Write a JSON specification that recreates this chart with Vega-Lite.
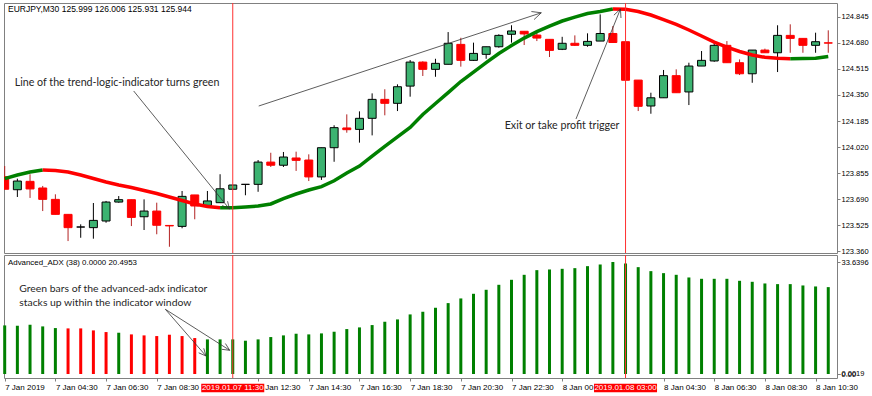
{
"$schema": "https://vega.github.io/schema/vega-lite/v6.json",
"padding": {"left": 2, "top": 2, "right": 0, "bottom": 0},
"background": "white",
"config": {"view": {"stroke": "#808080", "strokeWidth": 1}, "font": "Liberation Sans", "axis": {"labelOverlap": false, "labelSeparation": 0}},
"datasets": {
"c": [
{"i":0,"o":123.832,"h":123.900,"l":123.753,"c":123.753},
{"i":1,"o":123.750,"h":123.820,"l":123.704,"c":123.805},
{"i":2,"o":123.803,"h":123.848,"l":123.698,"c":123.755},
{"i":3,"o":123.761,"h":123.774,"l":123.615,"c":123.689},
{"i":4,"o":123.689,"h":123.721,"l":123.594,"c":123.594},
{"i":5,"o":123.594,"h":123.594,"l":123.425,"c":123.510},
{"i":6,"o":123.514,"h":123.531,"l":123.446,"c":123.514},
{"i":7,"o":123.510,"h":123.666,"l":123.440,"c":123.556},
{"i":8,"o":123.552,"h":123.679,"l":123.541,"c":123.672},
{"i":9,"o":123.672,"h":123.710,"l":123.668,"c":123.687},
{"i":10,"o":123.687,"h":123.687,"l":123.520,"c":123.575},
{"i":11,"o":123.579,"h":123.689,"l":123.495,"c":123.615},
{"i":12,"o":123.615,"h":123.668,"l":123.468,"c":123.525},
{"i":13,"o":123.524,"h":123.524,"l":123.389,"c":123.521},
{"i":14,"o":123.518,"h":123.742,"l":123.506,"c":123.708},
{"i":15,"o":123.717,"h":123.717,"l":123.563,"c":123.647},
{"i":16,"o":123.651,"h":123.742,"l":123.647,"c":123.679},
{"i":17,"o":123.668,"h":123.848,"l":123.668,"c":123.756},
{"i":18,"o":123.753,"h":123.780,"l":123.753,"c":123.780},
{"i":19,"o":123.784,"h":123.784,"l":123.715,"c":123.784},
{"i":20,"o":123.784,"h":123.938,"l":123.737,"c":123.925},
{"i":21,"o":123.925,"h":123.984,"l":123.894,"c":123.905},
{"i":22,"o":123.905,"h":123.989,"l":123.894,"c":123.957},
{"i":23,"o":123.951,"h":123.991,"l":123.869,"c":123.936},
{"i":24,"o":123.938,"h":123.974,"l":123.805,"c":123.831},
{"i":25,"o":123.831,"h":124.016,"l":123.812,"c":124.016},
{"i":26,"o":124.016,"h":124.158,"l":123.927,"c":124.143},
{"i":27,"o":124.141,"h":124.227,"l":124.111,"c":124.130},
{"i":28,"o":124.132,"h":124.246,"l":124.048,"c":124.202},
{"i":29,"o":124.202,"h":124.360,"l":124.094,"c":124.322},
{"i":30,"o":124.322,"h":124.386,"l":124.221,"c":124.297},
{"i":31,"o":124.297,"h":124.417,"l":124.248,"c":124.402},
{"i":32,"o":124.406,"h":124.571,"l":124.339,"c":124.558},
{"i":33,"o":124.558,"h":124.563,"l":124.470,"c":124.512},
{"i":34,"o":124.512,"h":124.579,"l":124.465,"c":124.550},
{"i":35,"o":124.544,"h":124.748,"l":124.544,"c":124.677},
{"i":36,"o":124.670,"h":124.712,"l":124.529,"c":124.569},
{"i":37,"o":124.569,"h":124.681,"l":124.565,"c":124.613},
{"i":38,"o":124.607,"h":124.655,"l":124.579,"c":124.655},
{"i":39,"o":124.655,"h":124.734,"l":124.649,"c":124.727},
{"i":40,"o":124.734,"h":124.791,"l":124.681,"c":124.755},
{"i":41,"o":124.753,"h":124.753,"l":124.666,"c":124.736},
{"i":42,"o":124.729,"h":124.755,"l":124.691,"c":124.710},
{"i":43,"o":124.702,"h":124.702,"l":124.590,"c":124.632},
{"i":44,"o":124.639,"h":124.718,"l":124.634,"c":124.677},
{"i":45,"o":124.677,"h":124.727,"l":124.660,"c":124.664},
{"i":46,"o":124.664,"h":124.740,"l":124.655,"c":124.689},
{"i":47,"o":124.691,"h":124.860,"l":124.691,"c":124.739},
{"i":48,"o":124.739,"h":124.786,"l":124.679,"c":124.682},
{"i":49,"o":124.687,"h":124.687,"l":124.443,"c":124.443},
{"i":50,"o":124.444,"h":124.444,"l":124.248,"c":124.278},
{"i":51,"o":124.280,"h":124.364,"l":124.231,"c":124.332},
{"i":52,"o":124.332,"h":124.508,"l":124.332,"c":124.472},
{"i":53,"o":124.472,"h":124.512,"l":124.364,"c":124.364},
{"i":54,"o":124.369,"h":124.554,"l":124.286,"c":124.533},
{"i":55,"o":124.533,"h":124.628,"l":124.533,"c":124.569},
{"i":56,"o":124.565,"h":124.685,"l":124.560,"c":124.664},
{"i":57,"o":124.664,"h":124.691,"l":124.554,"c":124.554},
{"i":58,"o":124.554,"h":124.575,"l":124.476,"c":124.484},
{"i":59,"o":124.484,"h":124.634,"l":124.427,"c":124.634},
{"i":60,"o":124.634,"h":124.643,"l":124.617,"c":124.617},
{"i":61,"o":124.617,"h":124.791,"l":124.495,"c":124.727},
{"i":62,"o":124.727,"h":124.797,"l":124.617,"c":124.708},
{"i":63,"o":124.708,"h":124.708,"l":124.617,"c":124.664},
{"i":64,"o":124.664,"h":124.744,"l":124.617,"c":124.687},
{"i":65,"o":124.680,"h":124.759,"l":124.617,"c":124.678}
],
"tr": [
{"i":0,"p":123.820,"seg":1,"s":"up"},{"i":1,"p":123.843,"seg":1,"s":"up"},{"i":2,"p":123.862,"seg":1,"s":"up"},{"i":3,"p":123.875,"seg":1,"s":"up"},
{"i":3,"p":123.875,"seg":2,"s":"down"},{"i":4,"p":123.872,"seg":2,"s":"down"},{"i":5,"p":123.862,"seg":2,"s":"down"},{"i":6,"p":123.843,"seg":2,"s":"down"},{"i":7,"p":123.821,"seg":2,"s":"down"},{"i":8,"p":123.799,"seg":2,"s":"down"},{"i":9,"p":123.780,"seg":2,"s":"down"},{"i":10,"p":123.764,"seg":2,"s":"down"},{"i":11,"p":123.745,"seg":2,"s":"down"},{"i":12,"p":123.726,"seg":2,"s":"down"},{"i":13,"p":123.704,"seg":2,"s":"down"},{"i":14,"p":123.682,"seg":2,"s":"down"},{"i":15,"p":123.660,"seg":2,"s":"down"},{"i":16,"p":123.644,"seg":2,"s":"down"},{"i":17,"p":123.636,"seg":2,"s":"down"},
{"i":17,"p":123.636,"seg":3,"s":"up"},{"i":18,"p":123.636,"seg":3,"s":"up"},{"i":19,"p":123.641,"seg":3,"s":"up"},{"i":20,"p":123.647,"seg":3,"s":"up"},{"i":21,"p":123.660,"seg":3,"s":"up"},{"i":22,"p":123.694,"seg":3,"s":"up"},{"i":23,"p":123.723,"seg":3,"s":"up"},{"i":24,"p":123.748,"seg":3,"s":"up"},{"i":25,"p":123.770,"seg":3,"s":"up"},{"i":26,"p":123.807,"seg":3,"s":"up"},{"i":27,"p":123.856,"seg":3,"s":"up"},{"i":28,"p":123.900,"seg":3,"s":"up"},{"i":29,"p":123.963,"seg":3,"s":"up"},{"i":30,"p":124.024,"seg":3,"s":"up"},{"i":31,"p":124.084,"seg":3,"s":"up"},{"i":32,"p":124.144,"seg":3,"s":"up"},{"i":33,"p":124.226,"seg":3,"s":"up"},{"i":34,"p":124.296,"seg":3,"s":"up"},{"i":35,"p":124.365,"seg":3,"s":"up"},{"i":36,"p":124.435,"seg":3,"s":"up"},{"i":37,"p":124.495,"seg":3,"s":"up"},{"i":38,"p":124.555,"seg":3,"s":"up"},{"i":39,"p":124.612,"seg":3,"s":"up"},{"i":40,"p":124.663,"seg":3,"s":"up"},{"i":41,"p":124.710,"seg":3,"s":"up"},{"i":42,"p":124.751,"seg":3,"s":"up"},{"i":43,"p":124.786,"seg":3,"s":"up"},{"i":44,"p":124.818,"seg":3,"s":"up"},{"i":45,"p":124.843,"seg":3,"s":"up"},{"i":46,"p":124.865,"seg":3,"s":"up"},{"i":47,"p":124.878,"seg":3,"s":"up"},{"i":48,"p":124.894,"seg":3,"s":"up"},
{"i":48,"p":124.894,"seg":4,"s":"down"},{"i":49,"p":124.892,"seg":4,"s":"down"},{"i":50,"p":124.878,"seg":4,"s":"down"},{"i":51,"p":124.856,"seg":4,"s":"down"},{"i":52,"p":124.827,"seg":4,"s":"down"},{"i":53,"p":124.796,"seg":4,"s":"down"},{"i":54,"p":124.761,"seg":4,"s":"down"},{"i":55,"p":124.723,"seg":4,"s":"down"},{"i":56,"p":124.685,"seg":4,"s":"down"},{"i":57,"p":124.653,"seg":4,"s":"down"},{"i":58,"p":124.625,"seg":4,"s":"down"},{"i":59,"p":124.603,"seg":4,"s":"down"},{"i":60,"p":124.588,"seg":4,"s":"down"},{"i":61,"p":124.582,"seg":4,"s":"down"},{"i":62,"p":124.579,"seg":4,"s":"down"},
{"i":62,"p":124.579,"seg":5,"s":"up"},{"i":63,"p":124.580,"seg":5,"s":"up"},{"i":64,"p":124.582,"seg":5,"s":"up"},{"i":65,"p":124.593,"seg":5,"s":"up"}
],
"adx": [
{"i":0,"v":14.6,"s":"up"},{"i":1,"v":14.5,"s":"up"},{"i":2,"v":14.8,"s":"up"},{"i":3,"v":14.3,"s":"up"},{"i":4,"v":13.8,"s":"up"},
{"i":5,"v":13.7,"s":"down"},{"i":6,"v":13.7,"s":"down"},{"i":7,"v":13.1,"s":"down"},{"i":8,"v":12.6,"s":"down"},
{"i":9,"v":12.4,"s":"up"},
{"i":10,"v":11.9,"s":"down"},{"i":11,"v":11.6,"s":"down"},{"i":12,"v":11.4,"s":"down"},{"i":13,"v":11.8,"s":"down"},{"i":14,"v":11.4,"s":"down"},{"i":15,"v":10.8,"s":"down"},
{"i":16,"v":10.4,"s":"up"},{"i":17,"v":10.4,"s":"up"},{"i":18,"v":10.4,"s":"up"},{"i":19,"v":10.0,"s":"up"},{"i":20,"v":10.4,"s":"up"},{"i":21,"v":11.1,"s":"up"},{"i":22,"v":11.6,"s":"up"},{"i":23,"v":12.1,"s":"up"},{"i":24,"v":11.9,"s":"up"},{"i":25,"v":12.2,"s":"up"},{"i":26,"v":12.7,"s":"up"},{"i":27,"v":13.5,"s":"up"},{"i":28,"v":14.0,"s":"up"},{"i":29,"v":14.7,"s":"up"},{"i":30,"v":15.7,"s":"up"},{"i":31,"v":16.4,"s":"up"},{"i":32,"v":17.9,"s":"up"},{"i":33,"v":18.7,"s":"up"},{"i":34,"v":19.9,"s":"up"},{"i":35,"v":21.3,"s":"up"},{"i":36,"v":22.7,"s":"up"},{"i":37,"v":24.1,"s":"up"},{"i":38,"v":25.3,"s":"up"},{"i":39,"v":26.8,"s":"up"},{"i":40,"v":28.3,"s":"up"},{"i":41,"v":29.8,"s":"up"},{"i":42,"v":31.2,"s":"up"},{"i":43,"v":31.4,"s":"up"},{"i":44,"v":31.6,"s":"up"},{"i":45,"v":31.8,"s":"up"},{"i":46,"v":32.4,"s":"up"},{"i":47,"v":32.9,"s":"up"},{"i":48,"v":33.64,"s":"up"},{"i":49,"v":33.2,"s":"up"},{"i":50,"v":32.1,"s":"up"},{"i":51,"v":30.9,"s":"up"},{"i":52,"v":30.3,"s":"up"},{"i":53,"v":29.8,"s":"up"},{"i":54,"v":29.0,"s":"up"},{"i":55,"v":28.6,"s":"up"},{"i":56,"v":28.6,"s":"up"},{"i":57,"v":28.6,"s":"up"},{"i":58,"v":28.0,"s":"up"},{"i":59,"v":27.7,"s":"up"},{"i":60,"v":27.2,"s":"up"},{"i":61,"v":27.0,"s":"up"},{"i":62,"v":27.0,"s":"up"},{"i":63,"v":26.6,"s":"up"},{"i":64,"v":26.3,"s":"up"},{"i":65,"v":26.1,"s":"up"}
],
"ev": [{"i":18,"label":"2019.01.07 11:30"},{"i":49,"label":"2019.01.08 03:00"}],
"topnotes": [
{"t":"Line of the trend-logic-indicator turns green","i":0.79,"p":124.427},
{"t":"Exit or take profit trigger","i":39.46,"p":124.156}
],
"toparrows": [
{"i":10.18,"p":124.375,"i2":17.74,"p2":123.628},
{"i":17.74,"p":123.628,"i2":17.59,"p2":123.677},
{"i":17.74,"p":123.628,"i2":17.17,"p2":123.650},
{"i":20.05,"p":124.280,"i2":42.35,"p2":124.870},
{"i":42.35,"p":124.870,"i2":41.57,"p2":124.878},
{"i":42.35,"p":124.870,"i2":41.78,"p2":124.827},
{"i":45.09,"p":124.198,"i2":48.60,"p2":124.894},
{"i":48.60,"p":124.894,"i2":48.08,"p2":124.855},
{"i":48.60,"p":124.894,"i2":48.64,"p2":124.837}
],
"botnotes": [
{"t":"Green bars of the advanced-adx indicator","i":1.15,"v":25.44},
{"t":"stacks up within the indicator window","i":1.15,"v":21.42}
],
"botarrows": [
{"i":12.68,"v":19.44,"i2":15.89,"v2":5.41},
{"i":15.89,"v":5.41,"i2":15.71,"v2":7.72},
{"i":15.89,"v":5.41,"i2":15.31,"v2":6.37},
{"i":12.68,"v":19.44,"i2":17.76,"v2":7.12},
{"i":17.76,"v":7.12,"i2":17.42,"v2":9.15},
{"i":17.76,"v":7.12,"i2":17.13,"v2":7.42}
]
},
"spacing": 2,
"bounds": "flush",
"resolve": {"scale": {"y": "independent", "color": "independent"}},
"vconcat": [
{
"width": 833, "height": 250,
"layer": [
{"data": {"name": "c"}, "mark": {"type": "rule", "strokeWidth": 1, "clip": true},
 "encoding": {
  "x": {"field": "i", "type": "quantitative", "scale": {"domain": [-0.055, 65.69], "nice": false, "zero": false, "padding": 0}, "axis": null},
  "y": {"field": "l", "type": "quantitative", "scale": {"domain": [123.3495, 124.932], "nice": false, "zero": false},
        "axis": {"orient": "right", "values": [123.36,123.525,123.69,123.855,124.02,124.185,124.35,124.515,124.68,124.845], "format": ".3f", "labelOverlap": false, "labelSeparation": 0, "title": null, "grid": false, "domain": false, "tickSize": 3, "tickColor": "#808080", "labelFontSize": 7.5, "labelColor": "#000000", "labelPadding": 1, "labelFont": "Liberation Sans"}},
  "y2": {"field": "h"},
  "color": {"condition": {"test": "datum.c < datum.o", "value": "#B22222"}, "value": "#000000"}
 }},
{"data": {"name": "c"}, "mark": {"type": "bar", "size": 8, "orient": "vertical", "strokeWidth": 1, "clip": true},
 "encoding": {
  "x": {"field": "i", "type": "quantitative"},
  "y": {"field": "o", "type": "quantitative",
        "axis": {"orient": "right", "values": [123.36,123.525,123.69,123.855,124.02,124.185,124.35,124.515,124.68,124.845], "format": ".3f", "labelOverlap": false, "labelSeparation": 0, "title": null, "grid": false, "domain": false, "tickSize": 3, "tickColor": "#808080", "labelFontSize": 7.5, "labelColor": "#000000", "labelPadding": 1, "labelFont": "Liberation Sans"}},
  "y2": {"field": "c"},
  "fill": {"condition": {"test": "datum.c < datum.o", "value": "#FF0000"}, "value": "#3CB371"},
  "stroke": {"condition": {"test": "datum.c < datum.o", "value": "#FF0000"}, "value": "#000000"}
 }},
{"data": {"name": "tr"}, "mark": {"type": "line", "strokeWidth": 3.5, "clip": true},
 "encoding": {
  "x": {"field": "i", "type": "quantitative"},
  "y": {"field": "p", "type": "quantitative",
        "axis": {"orient": "right", "values": [123.36,123.525,123.69,123.855,124.02,124.185,124.35,124.515,124.68,124.845], "format": ".3f", "labelOverlap": false, "labelSeparation": 0, "title": null, "grid": false, "domain": false, "tickSize": 3, "tickColor": "#808080", "labelFontSize": 7.5, "labelColor": "#000000", "labelPadding": 1, "labelFont": "Liberation Sans"}},
  "detail": {"field": "seg"},
  "color": {"field": "s", "type": "nominal", "scale": {"domain": ["up","down"], "range": ["#008000","#FF0000"]}, "legend": null}
 }},
{"data": {"name": "ev"}, "mark": {"type": "rule", "color": "#FF3030", "strokeWidth": 1},
 "encoding": {"x": {"field": "i", "type": "quantitative"}}},
{"data": {"name": "toparrows"}, "mark": {"type": "rule", "color": "#333333", "strokeWidth": 0.8},
 "encoding": {
  "x": {"field": "i", "type": "quantitative"},
  "y": {"field": "p", "type": "quantitative",
        "axis": {"orient": "right", "values": [123.36,123.525,123.69,123.855,124.02,124.185,124.35,124.515,124.68,124.845], "format": ".3f", "labelOverlap": false, "labelSeparation": 0, "title": null, "grid": false, "domain": false, "tickSize": 3, "tickColor": "#808080", "labelFontSize": 7.5, "labelColor": "#000000", "labelPadding": 1, "labelFont": "Liberation Sans"}},
  "x2": {"field": "i2"}, "y2": {"field": "p2"}
 }},
{"data": {"name": "topnotes"}, "mark": {"type": "text", "align": "left", "baseline": "middle", "font": "Lato", "fontSize": 10.7, "color": "#262626"},
 "encoding": {
  "x": {"field": "i", "type": "quantitative"},
  "y": {"field": "p", "type": "quantitative",
        "axis": {"orient": "right", "values": [123.36,123.525,123.69,123.855,124.02,124.185,124.35,124.515,124.68,124.845], "format": ".3f", "labelOverlap": false, "labelSeparation": 0, "title": null, "grid": false, "domain": false, "tickSize": 3, "tickColor": "#808080", "labelFontSize": 7.5, "labelColor": "#000000", "labelPadding": 1, "labelFont": "Liberation Sans"}},
  "text": {"field": "t"}
 }},
{"data": {"values": [{"t": "EURJPY,M30  125.999 126.006 125.931 125.944", "i": 0.26, "p": 124.892}]},
 "mark": {"type": "text", "align": "left", "baseline": "middle", "font": "Liberation Sans", "fontSize": 8.5, "color": "#000000"},
 "encoding": {
  "x": {"field": "i", "type": "quantitative"},
  "y": {"field": "p", "type": "quantitative",
        "axis": {"orient": "right", "values": [123.36,123.525,123.69,123.855,124.02,124.185,124.35,124.515,124.68,124.845], "format": ".3f", "labelOverlap": false, "labelSeparation": 0, "title": null, "grid": false, "domain": false, "tickSize": 3, "tickColor": "#808080", "labelFontSize": 7.5, "labelColor": "#000000", "labelPadding": 1, "labelFont": "Liberation Sans"}},
  "text": {"field": "t"}
 }}
]
},
{
"width": 833, "height": 123,
"layer": [
{"data": {"name": "adx"}, "mark": {"type": "bar", "size": 3, "orient": "vertical"},
 "encoding": {
  "x": {"field": "i", "type": "quantitative", "scale": {"domain": [-0.055, 65.69], "nice": false, "zero": false, "padding": 0},
        "axis": {"values": [0,4,8,12,20,24,28,32,36,40,44,52,56,60,64],
                 "labelExpr": "['7 Jan 2019','7 Jan 04:30','7 Jan 06:30','7 Jan 08:30','7 Jan 10:30','7 Jan 12:30','7 Jan 14:30','7 Jan 16:30','7 Jan 18:30','7 Jan 20:30','7 Jan 22:30','8 Jan 00:30','8 Jan 02:30','8 Jan 04:30','8 Jan 06:30','8 Jan 08:30','8 Jan 10:30'][round(datum.value/4)]",
                 "labelAlign": "left", "labelOverlap": false, "labelFlush": false, "title": null, "grid": false, "domain": false,
                 "tickSize": 3, "tickColor": "#808080", "labelFontSize": 8, "labelColor": "#000000", "labelPadding": 2, "labelFont": "Liberation Sans"}},
  "y": {"field": "v", "type": "quantitative", "scale": {"domain": [-1.2, 35.75], "nice": false, "zero": false},
        "axis": {"orient": "right", "values": [0, 0.0019, 33.6396], "labelExpr": "datum.value == 0 ? '0.00' : format(datum.value, '.4f')", "labelOverlap": false, "labelSeparation": 0, "title": null, "grid": false, "domain": false, "tickSize": 3, "tickColor": "#808080", "labelFontSize": 7.5, "labelColor": "#000000", "labelPadding": 1, "labelFont": "Liberation Sans"}},
  "y2": {"datum": 0},
  "color": {"field": "s", "type": "nominal", "scale": {"domain": ["up","down"], "range": ["#008000","#FF0000"]}, "legend": null}
 }},
{"data": {"name": "ev"}, "mark": {"type": "rule", "color": "#FF3030", "strokeWidth": 1},
 "encoding": {"x": {"field": "i", "type": "quantitative"}}},
{"data": {"name": "botarrows"}, "mark": {"type": "rule", "color": "#333333", "strokeWidth": 0.8},
 "encoding": {
  "x": {"field": "i", "type": "quantitative"}, "y": {"field": "v", "type": "quantitative"},
  "x2": {"field": "i2"}, "y2": {"field": "v2"}
 }},
{"data": {"name": "botnotes"}, "mark": {"type": "text", "align": "left", "baseline": "middle", "font": "Lato", "fontSize": 10.4, "color": "#262626"},
 "encoding": {
  "x": {"field": "i", "type": "quantitative"}, "y": {"field": "v", "type": "quantitative"},
  "text": {"field": "t"}
 }},
{"data": {"values": [{"t": "Advanced_ADX (38) 0.0000 20.4953", "i": 0.26, "v": 33.43}]},
 "mark": {"type": "text", "align": "left", "baseline": "middle", "font": "Liberation Sans", "fontSize": 7.9, "color": "#000000"},
 "encoding": {
  "x": {"field": "i", "type": "quantitative"}, "y": {"field": "v", "type": "quantitative"},
  "text": {"field": "t"}
 }},
{"data": {"name": "ev"}, "mark": {"type": "bar", "size": 63, "orient": "vertical", "color": "#FF0000", "clip": false},
 "encoding": {
  "x": {"field": "i", "type": "quantitative"},
  "y": {"datum": -2.91}, "y2": {"datum": -5.49}
 }},
{"data": {"name": "ev"}, "mark": {"type": "text", "align": "center", "baseline": "middle", "font": "Liberation Sans", "fontSize": 8, "color": "#FFFFFF", "clip": false},
 "encoding": {
  "x": {"field": "i", "type": "quantitative"},
  "y": {"datum": -4.2},
  "text": {"field": "label"}
 }}
]
}
]
}
